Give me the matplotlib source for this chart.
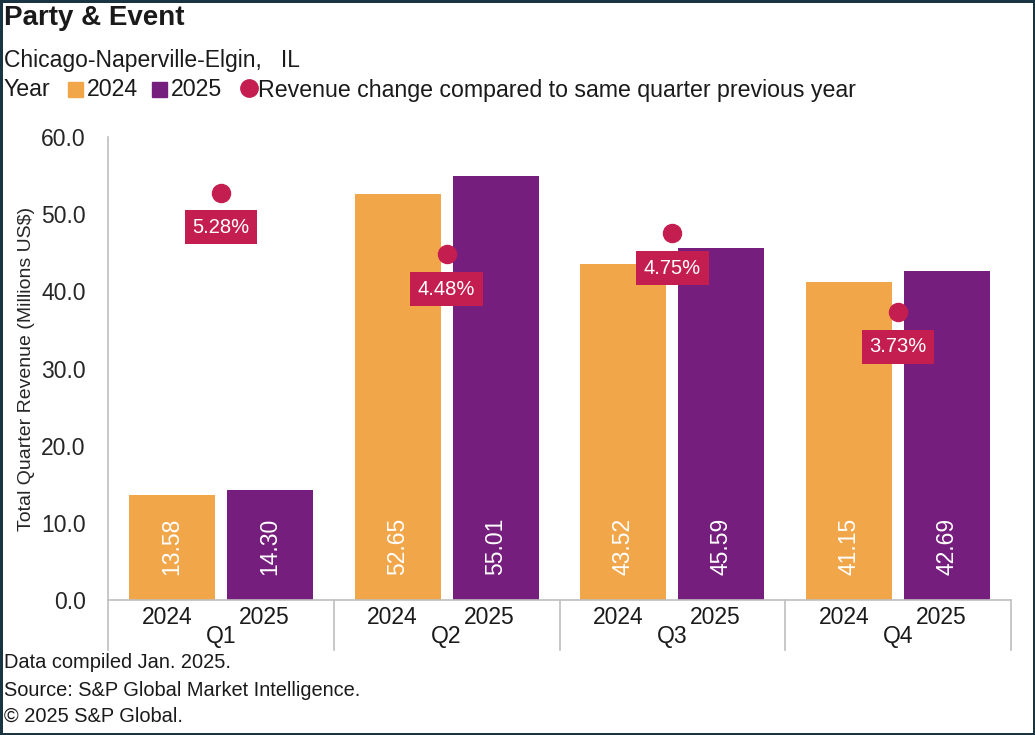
import matplotlib
matplotlib.use("Agg")
import matplotlib.pyplot as plt
from matplotlib.patches import Rectangle
from matplotlib.lines import Line2D
import matplotlib.transforms as mtrans

plt.rcParams['font.family'] = ['Liberation Sans', 'DejaVu Sans']

quarters = ["Q1", "Q2", "Q3", "Q4"]
years = ["2024", "2025"]
rev_2024 = [13.58, 52.65, 43.52, 41.15]
rev_2025 = [14.30, 55.01, 45.59, 42.69]
pct_change = [5.28, 4.48, 4.75, 3.73]

c2024 = "#F1A64A"
c2025 = "#761E7D"
cdot = "#C41E50"
gray = "#BFBFBF"
txt = "#1a1a1a"

W, H = 1035, 735
fig = plt.figure(figsize=(W / 100, H / 100), dpi=100)
ax = fig.add_axes([108 / W, 1 - 600 / H, (1011 - 108) / W, (600 - 137) / H])

x = list(range(len(quarters)))
off = 0.217
bw = 0.38
ax.bar([i - off for i in x], rev_2024, width=bw, color=c2024, zorder=2)
ax.bar([i + off for i in x], rev_2025, width=bw, color=c2025, zorder=2)

for i in x:
    for dx, v in ((-off, rev_2024[i]), (off, rev_2025[i])):
        ax.text(i + dx, 6.9, f"{v:.2f}", rotation=90, ha="center", va="center",
                color="white", fontsize=16.5, zorder=3)

ax.set_xlim(-0.5, 3.5)
ax.set_ylim(0, 60)
ticks = [0, 10, 20, 30, 40, 50, 60]
ax.set_yticks(ticks)
ax.set_yticklabels([f"{t:.1f}" for t in ticks], fontsize=16.5, color="#262626")
ax.tick_params(axis="y", length=0, pad=16)
ax.set_xticks([])
for s in ("top", "right"):
    ax.spines[s].set_visible(False)
for s in ("left", "bottom"):
    ax.spines[s].set_color(gray)
    ax.spines[s].set_linewidth(1.2)
ax.set_ylabel("Total Quarter Revenue (Millions US$)", fontsize=14, color="#262626")
ax.yaxis.set_label_coords(-0.081, 0.5)

# two-level category axis
trans = mtrans.blended_transform_factory(ax.transData, ax.transAxes)
for b in [-0.5, 0.5, 1.5, 2.5, 3.5]:
    ax.add_line(Line2D([b, b], [0, -50 / 463], transform=trans, color=gray, lw=1.2, clip_on=False))
for i, q in enumerate(quarters):
    ax.text(i - 0.24, -17 / 463, years[0], transform=trans, ha="center", va="center", fontsize=16.5, color=txt)
    ax.text(i + 0.19, -17 / 463, years[1], transform=trans, ha="center", va="center", fontsize=16.5, color=txt)
    ax.text(i, -36 / 463, q, transform=trans, ha="center", va="center", fontsize=16.5, color=txt)

# secondary axis for percent change
ax2 = ax.twinx()
ax2.set_ylim(0, 6)
ax2.axis("off")
ax2.plot(x, pct_change, linestyle="none", marker="o", markersize=13, color=cdot, zorder=4)
for i, p in enumerate(pct_change):
    ax2.annotate(f"{p:.2f}%", (i, p), xytext=(0, -25), textcoords="offset points",
                 ha="center", va="center", color="white", fontsize=14.5,
                 bbox=dict(boxstyle="square,pad=0.38", fc=cdot, ec="none"), zorder=5)

# titles
fig.text(4 / W, 1 - 18 / H, "Party & Event", fontsize=20, fontweight="bold", ha="left", va="center", color=txt)
fig.text(4 / W, 1 - 60 / H, "Chicago-Naperville-Elgin,   IL", fontsize=16.5, ha="left", va="center", color=txt)

# legend row
ly = 1 - 90 / H
fig.text(4 / W, ly, "Year", fontsize=16.7, ha="left", va="center", color=txt)
fig.patches.append(Rectangle((68 / W, 1 - 97 / H), 15 / W, 15 / H, transform=fig.transFigure, color=c2024))
fig.text(87 / W, ly, "2024", fontsize=16.7, ha="left", va="center", color=txt)
fig.patches.append(Rectangle((152 / W, 1 - 97 / H), 15 / W, 15 / H, transform=fig.transFigure, color=c2025))
fig.text(171 / W, ly, "2025", fontsize=16.7, ha="left", va="center", color=txt)
fig.add_artist(Line2D([248.5 / W], [1 - 88 / H], marker="o", markersize=12.5, color=cdot, transform=fig.transFigure))
fig.text(258 / W, ly, "Revenue change compared to same quarter previous year", fontsize=16.7,
         ha="left", va="center", color=txt)

# footer
fig.text(4 / W, 1 - 663 / H, "Data compiled Jan. 2025.", fontsize=14.4, ha="left", va="center", color=txt)
fig.text(4 / W, 1 - 690 / H, "Source: S&P Global Market Intelligence.", fontsize=14.4, ha="left", va="center", color=txt)
fig.text(4 / W, 1 - 716 / H, "© 2025 S&P Global.", fontsize=14.4, ha="left", va="center", color=txt)

# outer border
fig.patches.append(Rectangle((0, 0), 1, 1, transform=fig.transFigure, fill=False, ec="#1b3441", lw=3.6))

fig.savefig("out.png", dpi=100)
